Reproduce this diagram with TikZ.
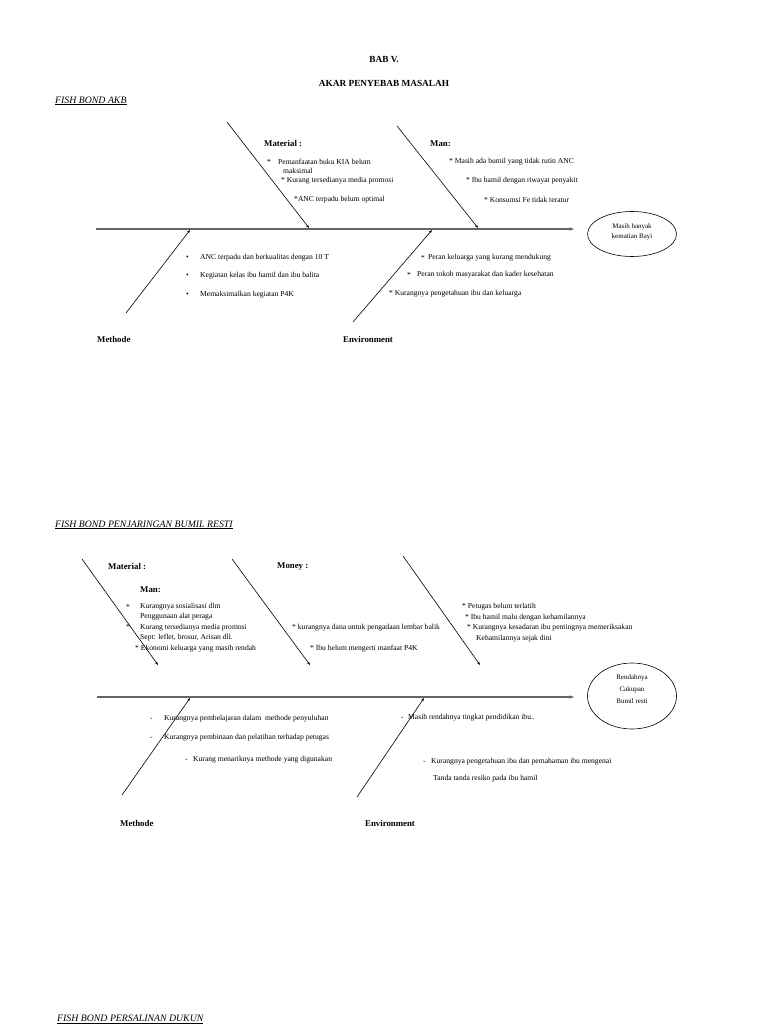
\documentclass[tikz,border=0pt]{standalone}
\usepackage{fontspec}
\setmainfont{Liberation Serif}
\usetikzlibrary{shapes.geometric,arrows.meta}
\begin{document}
\begin{tikzpicture}[x=1pt,y=-1pt,
  txt/.style={font=\fontsize{7.6}{9}\selectfont, anchor=west, inner sep=0pt},
  lab/.style={font=\fontsize{8.8}{10}\selectfont\bfseries, anchor=west, inner sep=0pt},
  ttl/.style={font=\fontsize{9.3}{11}\selectfont\bfseries, inner sep=0pt},
  head/.style={font=\fontsize{9.8}{11}\selectfont\itshape, anchor=west, inner sep=0pt},
  bone/.style={line width=0.6pt, -{Stealth[length=3.5pt,width=2.6pt]}},
  spine/.style={line width=1.3pt, draw=black!60, -{Stealth[length=4.5pt,width=3.4pt]}},
  effect/.style={draw, ellipse, line width=0.6pt, inner sep=0pt, minimum width=89pt},
  efftxt/.style={align=center, inner sep=0pt, font=\fontsize{7}{12}\selectfont}]
\useasboundingbox (0,0) rectangle (768,1024);

% ---------- titles ----------
\node[ttl] (bab) at (384,60) {BAB V.};
\node[ttl] (akar) at (384,83) {AKAR PENYEBAB MASALAH};
\node[head] (h1) at (55,101) {\underline{FISH BOND AKB}};

% ---------- diagram 1 ----------
\coordinate (s1a) at (96,229);
\coordinate (s1b) at (574,229);
\draw[spine] (s1a) -- (s1b);
\node[effect, minimum height=45pt] (e1) at (632,234) {};
\node[efftxt, font=\fontsize{7}{10.5}\selectfont] (e1t) at (632,232) {Masih banyak\\kematian Bayi};

\coordinate (m1a) at (227,122); \coordinate (m1b) at (309,228);
\coordinate (n1a) at (397,126); \coordinate (n1b) at (478,228);
\coordinate (t1a) at (126,313); \coordinate (t1b) at (190,230);
\coordinate (v1a) at (353,322); \coordinate (v1b) at (432,230);
\draw[bone] (m1a) -- (m1b);
\draw[bone] (n1a) -- (n1b);
\draw[bone] (t1a) -- (t1b);
\draw[bone] (v1a) -- (v1b);

\node[lab] (mat1) at (264,144) {Material :};
\node[lab] (man1) at (430,144) {Man:};
\node[lab] (met1) at (97,339) {Methode};
\node[lab] (env1) at (343,339) {Environment};

\node[txt] (a0) at (267,162) {*};
\node[txt] (a1) at (278,162) {Pemanfaatan buku KIA belum};
\node[txt] (a2) at (283,171) {maksimal};
\node[txt] (a3) at (281,181) {* Kurang tersedianya media promosi};
\node[txt] (a4) at (294,200) {*ANC terpadu belum optimal};

\node[txt] (b1) at (449,162) {* Masih ada bumil yang tidak rutin ANC};
\node[txt] (b2) at (466,181) {* Ibu hamil dengan riwayat penyakit};
\node[txt] (b3) at (484,200) {* Konsumsi Fe tidak teratur};

\node[txt] (c0) at (186,258) {\textbullet};
\node[txt] (c1) at (200,258) {ANC terpadu dan berkualitas dengan 10 T};
\node[txt] (c2) at (186,276) {\textbullet};
\node[txt] (c3) at (200,276) {Kegiatan kelas ibu hamil dan ibu balita};
\node[txt] (c4) at (186,295) {\textbullet};
\node[txt] (c5) at (200,295) {Memaksimalkan kegiatan P4K};

\node[txt] (d0) at (421,258) {*};
\node[txt] (d1) at (428,258) {Peran keluarga yang kurang mendukung};
\node[txt] (d2) at (407,275) {*};
\node[txt] (d3) at (417,275) {Peran tokoh masyarakat dan kader kesehatan};
\node[txt] (d4) at (389,294) {* Kurangnya pengetahuan ibu dan keluarga};

% ---------- diagram 2 ----------
\node[head] (h2) at (55,525) {\underline{FISH BOND PENJARINGAN BUMIL RESTI}};

\coordinate (s2a) at (97,697);
\coordinate (s2b) at (574,697);
\draw[spine] (s2a) -- (s2b);
\node[effect, minimum height=66pt] (e2) at (632,696) {};
\node[efftxt] (e2t) at (632,689) {Rendahnya\\Cakupan\\Bumil resti};

\coordinate (m2a) at (82,559);  \coordinate (m2b) at (158,665);
\coordinate (o2a) at (232,559); \coordinate (o2b) at (310,665);
\coordinate (n2a) at (403,556); \coordinate (n2b) at (480,665);
\coordinate (t2a) at (122,795); \coordinate (t2b) at (190,698);
\coordinate (v2a) at (357,797); \coordinate (v2b) at (424,698);
\draw[bone] (m2a) -- (m2b);
\draw[bone] (o2a) -- (o2b);
\draw[bone] (n2a) -- (n2b);
\draw[bone] (t2a) -- (t2b);
\draw[bone] (v2a) -- (v2b);

\node[lab] (mat2) at (108,567) {Material :};
\node[lab] (mon2) at (277,567) {Money :};
\node[lab] (man2) at (140,590) {Man:};
\node[lab] (met2) at (120,823) {Methode};
\node[lab] (env2) at (365,823) {Environment};

\node[txt] (f0) at (126,607) {*};
\node[txt] (f1) at (140,607) {Kurangnya sosialisasi dlm};
\node[txt] (f2) at (140,617) {Penggunaan alat peraga};
\node[txt] (f3) at (126,627) {*};
\node[txt] (f4) at (140,628) {Kurang tersedianya media promosi};
\node[txt] (f5) at (140,638) {Sept: leflet, brosur, Arisan dll.};
\node[txt] (f6) at (135,649) {* Ekonomi keluarga yang masih rendah};

\node[txt] (g1) at (292,628) {* kurangnya dana untuk pengadaan lembar balik};
\node[txt] (g2) at (310,649) {* Ibu belum mengerti manfaat P4K};

\node[txt] (k1) at (462,607) {* Petugas belum terlatih};
\node[txt] (k2) at (465,618) {* Ibu hamil malu dengan kehamilannya};
\node[txt] (k3) at (467,628) {* Kurangnya kesadaran ibu pentingnya memeriksakan};
\node[txt] (k4) at (476,639) {Kehamilannya sejak dini};

\node[txt] (p0) at (150,719) {-};
\node[txt] (p1) at (164,719) {Kurangnya pembelajaran dalam\ \ methode penyuluhan};
\node[txt] (p2) at (150,738) {-};
\node[txt] (p3) at (164,738) {Kurangnya pembinaan dan pelatihan terhadap petugas};
\node[txt] (p4) at (185,760) {-};
\node[txt] (p5) at (193,760) {Kurang menariknya methode yang digunakan};

\node[txt] (q0) at (401,718) {-};
\node[txt] (q1) at (408,718) {Masih rendahnya tingkat pendidikan ibu..};
\node[txt] (q2) at (423,762) {-};
\node[txt] (q3) at (431,762) {Kurangnya pengetahuan ibu dan pemahaman ibu mengenai};
\node[txt] (q4) at (433,779) {Tanda tanda resiko pada ibu hamil};

% ---------- diagram 3 heading ----------
\node[head] (h3) at (57,1019) {\underline{FISH BOND PERSALINAN DUKUN}};
\end{tikzpicture}
\end{document}
